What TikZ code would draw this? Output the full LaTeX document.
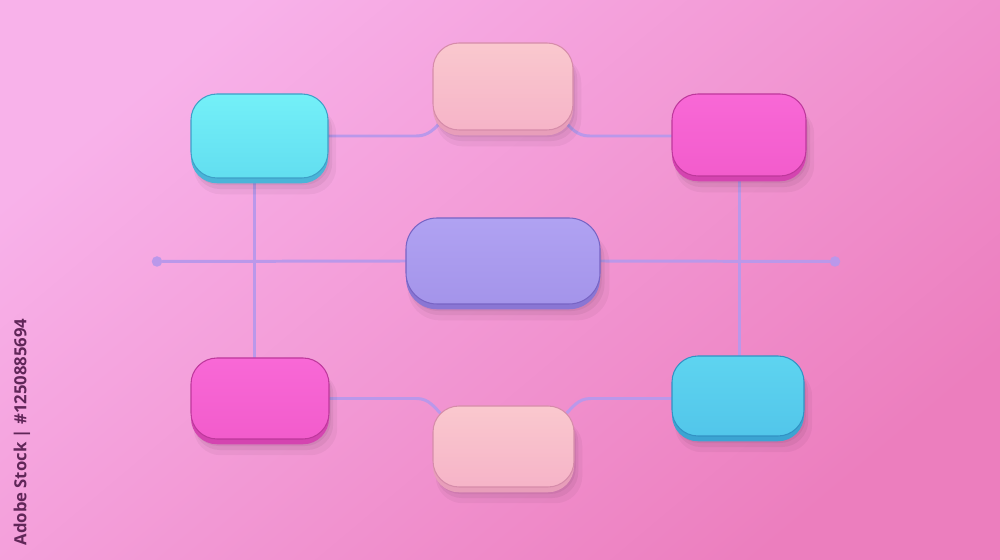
\documentclass[tikz,border=0pt]{standalone}
\usepackage{fontspec}
\newfontfamily\stockfont{Open Sans}
\usetikzlibrary{shadows,calc}

% background and wire colours
\definecolor{bglight}{RGB}{248,178,234}
\definecolor{bgdark}{RGB}{236,126,190}
\definecolor{wirecol}{RGB}{186,152,234}
\definecolor{stockink}{RGB}{96,38,88}

% pad colours: face top, face bottom, side, rim
\definecolor{cyantop}{RGB}{116,240,248}
\definecolor{cyanbot}{RGB}{98,222,240}
\definecolor{cyanside}{RGB}{74,180,216}
\definecolor{cyanrim}{RGB}{62,160,200}
\definecolor{skytop}{RGB}{94,212,240}
\definecolor{skybot}{RGB}{82,198,234}
\definecolor{skyside}{RGB}{60,164,210}
\definecolor{skyrim}{RGB}{50,146,196}
\definecolor{peachtop}{RGB}{250,200,206}
\definecolor{peachbot}{RGB}{246,180,200}
\definecolor{peachside}{RGB}{232,158,186}
\definecolor{peachrim}{RGB}{214,140,170}
\definecolor{magtop}{RGB}{248,104,214}
\definecolor{magbot}{RGB}{242,92,204}
\definecolor{magside}{RGB}{212,68,176}
\definecolor{magrim}{RGB}{190,56,156}
\definecolor{lilactop}{RGB}{176,162,242}
\definecolor{lilacbot}{RGB}{164,148,234}
\definecolor{lilacside}{RGB}{138,118,212}
\definecolor{lilacrim}{RGB}{120,100,196}

\pgfdeclarelayer{back}
\pgfdeclarelayer{wires}
\pgfsetlayers{back,wires,main}

\tikzset{
  pad/.style={rectangle, rounded corners=0.52cm, inner sep=0pt, line width=0.6pt,
    general shadow={shadow xshift=3pt, shadow yshift=-8pt, shadow scale=1.04, fill=black, opacity=0.04},
    general shadow={shadow xshift=2pt, shadow yshift=-6pt, shadow scale=1.01, fill=black, opacity=0.05},
    general shadow={shadow xshift=1pt, shadow yshift=-4pt, fill=black, opacity=0.05}},
  padcolour/.style={top color=#1top, bottom color=#1bot, draw=#1rim,
    general shadow={shadow xshift=0pt, shadow yshift=-3pt, fill=#1side, draw=none}},
  wire/.style={draw=wirecol, line width=1.7pt, line cap=round},
  knob/.style={circle, fill=wirecol, inner sep=0pt, minimum size=0.21cm}
}

\begin{document}
\begin{tikzpicture}
  \useasboundingbox (0,0) rectangle (20,11.2);

  % backdrop
  \begin{pgfonlayer}{back}
    \shade[top color=bglight, bottom color=bgdark, shading angle=40]
      (0,0) rectangle (20,11.2);
  \end{pgfonlayer}

  % pads
  \node[pad, padcolour=cyan, minimum width=2.74cm, minimum height=1.68cm] (tl) at (5.19,8.48) {};
  \node[pad, padcolour=peach, minimum width=2.8cm, minimum height=1.74cm] (tp) at (10.06,9.47) {};
  \node[pad, padcolour=mag, minimum width=2.68cm, minimum height=1.64cm] (tr) at (14.78,8.50) {};
  \node[pad, padcolour=lilac, rounded corners=0.62cm, minimum width=3.88cm, minimum height=1.72cm] (mid) at (10.06,5.98) {};
  \node[pad, padcolour=mag, minimum width=2.76cm, minimum height=1.62cm] (bl) at (5.2,3.23) {};
  \node[pad, padcolour=peach, minimum width=2.82cm, minimum height=1.62cm] (bp) at (10.07,2.27) {};
  \node[pad, padcolour=sky, minimum width=2.64cm, minimum height=1.6cm] (br) at (14.76,3.28) {};

  % end knobs of the axis
  \node[knob] (kl) at (3.14,5.97) {};
  \node[knob] (kr) at (16.7,5.97) {};

  % wires
  \begin{pgfonlayer}{wires}
    \draw[wire] (kl) -- (mid.west);
    \draw[wire] (mid.east) -- (kr);
    \draw[wire] ([xshift=-0.1cm]tl.south) -- ([xshift=-0.1cm]tl.south |- bl.north);
    \draw[wire] (tr.south) -- (tr.south |- br.north);
    \draw[wire] (tl.east) -- ([xshift=-0.32cm]tl.east -| tp.west)
      to[out=0, in=-135] ([shift={(0.22,0.22)}]tp.south west);
    \draw[wire] ([shift={(-0.22,0.22)}]tp.south east)
      to[out=-45, in=180] ([xshift=0.32cm]tp.east |- tl.east) -- (tl.east -| tr.west);
    \draw[wire] (bl.east) -- ([xshift=-0.32cm]bl.east -| bp.west)
      to[out=0, in=135] ([shift={(0.22,-0.22)}]bp.north west);
    \draw[wire] ([shift={(-0.22,-0.22)}]bp.north east)
      to[out=45, in=180] ([xshift=0.32cm]bp.east |- bl.east) -- (bl.east -| br.west);
  \end{pgfonlayer}

  % stock id along the left edge
  \node[rotate=90, text=stockink, font=\stockfont\bfseries\fontsize{9.5}{11}\selectfont] (stockid)
    at (0.44,2.56) {Adobe Stock | \#1250885694};
\end{tikzpicture}
\end{document}
